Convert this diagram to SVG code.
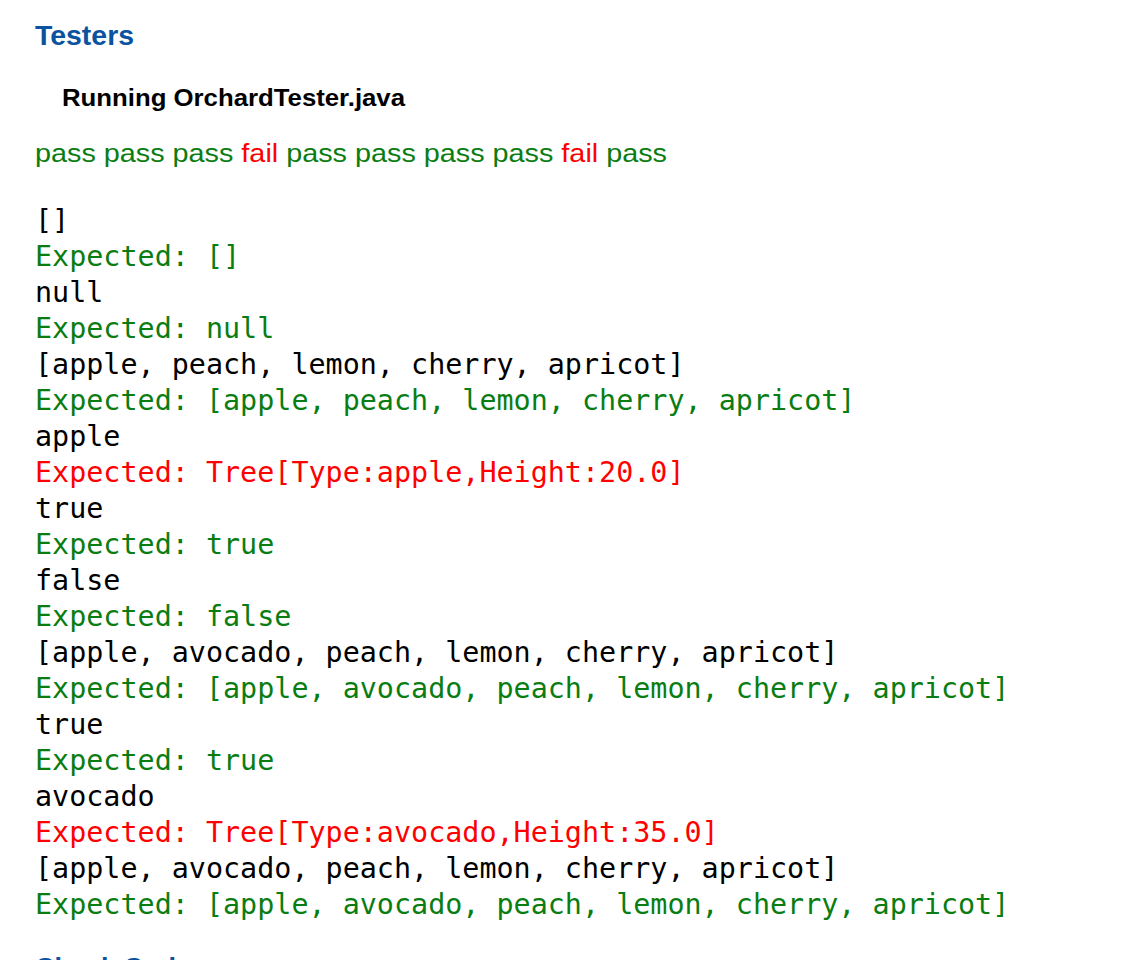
<svg xmlns="http://www.w3.org/2000/svg" width="1140" height="960" viewBox="0 0 1140 960">
<style>
.h{font-family:"Liberation Sans",Arial,sans-serif;font-weight:bold;fill:#0b52a0}
.s{font-family:"Liberation Sans",Arial,sans-serif}
.m{font-family:"DejaVu Sans Mono",monospace;font-size:28.4px}
.k{fill:#000}.g{fill:#0a7d12}.r{fill:#f00}
</style>
<rect width="1140" height="960" fill="#fff"/>
<text class="h" x="35" y="45" font-size="27" textLength="99" lengthAdjust="spacingAndGlyphs">Testers</text>
<text class="s k" x="62" y="106" font-size="24" font-weight="bold" textLength="343" lengthAdjust="spacingAndGlyphs">Running OrchardTester.java</text>
<text class="s" x="35" y="162" font-size="26" textLength="632" lengthAdjust="spacingAndGlyphs"><tspan class="g">pass pass pass </tspan><tspan class="r">fail</tspan><tspan class="g"> pass pass pass pass </tspan><tspan class="r">fail</tspan><tspan class="g"> pass</tspan></text>
<g class="m">
<text class="k" x="35" y="230">[]</text>
<text class="g" x="35" y="266">Expected: []</text>
<text class="k" x="35" y="302">null</text>
<text class="g" x="35" y="338">Expected: null</text>
<text class="k" x="35" y="374">[apple, peach, lemon, cherry, apricot]</text>
<text class="g" x="35" y="410">Expected: [apple, peach, lemon, cherry, apricot]</text>
<text class="k" x="35" y="446">apple</text>
<text class="r" x="35" y="482">Expected: Tree[Type:apple,Height:20.0]</text>
<text class="k" x="35" y="518">true</text>
<text class="g" x="35" y="554">Expected: true</text>
<text class="k" x="35" y="590">false</text>
<text class="g" x="35" y="626">Expected: false</text>
<text class="k" x="35" y="662">[apple, avocado, peach, lemon, cherry, apricot]</text>
<text class="g" x="35" y="698">Expected: [apple, avocado, peach, lemon, cherry, apricot]</text>
<text class="k" x="35" y="734">true</text>
<text class="g" x="35" y="770">Expected: true</text>
<text class="k" x="35" y="806">avocado</text>
<text class="r" x="35" y="842">Expected: Tree[Type:avocado,Height:35.0]</text>
<text class="k" x="35" y="878">[apple, avocado, peach, lemon, cherry, apricot]</text>
<text class="g" x="35" y="914">Expected: [apple, avocado, peach, lemon, cherry, apricot]</text>
</g>
<text class="h" x="35" y="977" font-size="27">Check Code</text>
</svg>
